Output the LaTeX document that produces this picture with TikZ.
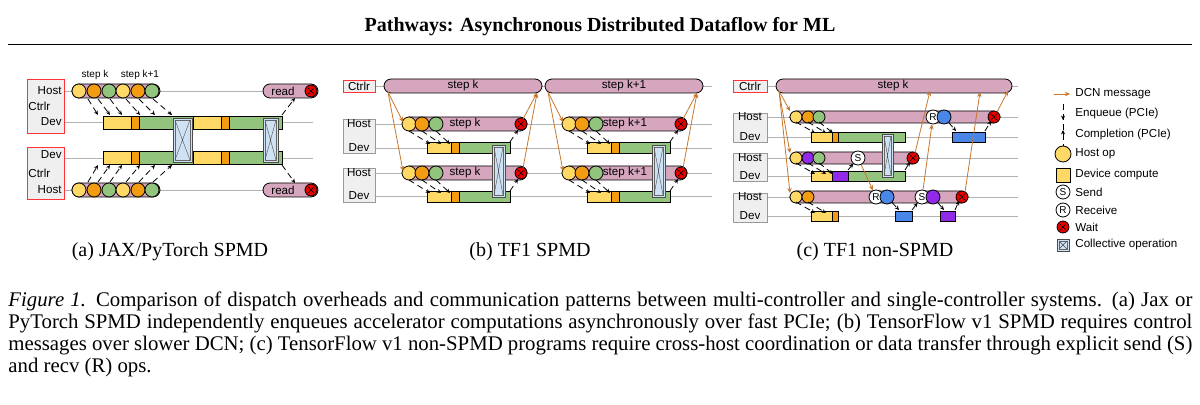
\documentclass[tikz,border=0pt]{standalone}
\usepackage{fontspec}
\setmainfont{Liberation Serif}
\setsansfont{Liberation Sans}
\usepackage{tikz}
\usetikzlibrary{arrows.meta}

\definecolor{hostc}{HTML}{FFD966}
\definecolor{orgc}{HTML}{F39C12}
\definecolor{grnc}{HTML}{93C47D}
\definecolor{pinkc}{HTML}{D5A6BD}
\definecolor{bluec}{HTML}{4A86E8}
\definecolor{purc}{HTML}{9229E8}
\definecolor{collc}{HTML}{CFE2F3}
\definecolor{boxc}{HTML}{EFEFEF}
\definecolor{dcnc}{HTML}{C8762A}

\tikzset{
  hop/.style = {circle, draw, thin, minimum size=7pt, inner sep=0pt},
  sr/.style = {hop, fill=white, font=\sffamily\fontsize{5}{5}\selectfont},
  pill/.style = {draw, thin, fill=pinkc, rounded corners=3.5pt},
  dev/.style = {draw, thin},
  tl/.style = {draw=black!30, thin},
  lbl/.style = {font=\sffamily\fontsize{5.8}{6}\selectfont, inner sep=0pt},
  ctl/.style = {draw=red!80, fill=boxc, thin},
  hbox/.style = {draw=black!40, fill=boxc, thin},
  enq/.style = {densely dashed, thin, -{Stealth[length=2.2pt,width=2pt]}},
  dcn/.style = {dcnc, thin, -{Stealth[length=2.5pt,width=2.2pt]}}
}

% collective op box
\newcommand\collop[4]{%
  \draw[fill=collc, draw=black!70, thin] (#1,#2) rectangle (#3,#4);
  \draw[black!60, very thin] (#1+2,#2+2) rectangle (#3-2,#4-2);
  \draw[black!70, very thin] (#1+2,#2+2) -- (#3-2,#4-2) (#3-2,#2+2) -- (#1+2,#4-2);}
% wait symbol
\newcommand\waitat[2]{%
  \node[hop, fill=red!90!black, minimum size=6pt] at (#1,#2) {};
  \draw[very thin] (#1-3,#2-3) -- (#1+3,#2+3) (#1-3,#2+3) -- (#1+3,#2-3);}

\begin{document}
\begin{tikzpicture}[x=0.5pt, y=-0.5pt]
\useasboundingbox (0,0) rectangle (1200,405);

% title
\node[font=\bfseries\fontsize{10}{12}\selectfont] (title) at (600,27) {Pathways: Asynchronous Distributed Dataflow for ML};
\draw[thin] (8,44) -- (1192,44);

% ===== (a) JAX/PyTorch SPMD =====
\foreach \y in {91,122,158,190} \draw[tl] (64,\y) -- (313,\y);
\draw[ctl] (27,79) rectangle (64,133);
\draw[ctl] (27,147) rectangle (64,199);
\node[lbl, anchor=east] at (62,91) {Host};
\node[lbl, anchor=west] at (28,106) {Ctrlr};
\node[lbl, anchor=east] at (62,122) {Dev};
\node[lbl, anchor=east] at (62,155) {Dev};
\node[lbl, anchor=west] at (28,173) {Ctrlr};
\node[lbl, anchor=east] at (62,190) {Host};
\node[lbl, font=\sffamily\fontsize{5}{5}\selectfont] at (95,75) {step k};
\node[lbl, font=\sffamily\fontsize{5}{5}\selectfont] at (140,75) {step k+1};
\foreach \y in {91,190} {
  \draw[pill] (72,\y-7) rectangle (160,\y+7);
  \foreach \x/\c in {79/hostc,94/orgc,109/grnc,123/hostc,138/orgc,152/grnc}
    \node[hop, fill=\c] at (\x,\y) {};
  \draw[pill] (263,\y-7) rectangle (318,\y+7);
  \node[lbl] at (283,\y) {read};
  \waitat{311}{\y}
}
\foreach \y in {116,151} {
  \draw[dev, fill=hostc] (103,\y) rectangle (131,\y+13);
  \draw[dev, fill=orgc] (131,\y) rectangle (139,\y+13);
  \draw[dev, fill=grnc] (139,\y) rectangle (193,\y+13);
  \draw[dev, fill=hostc] (193,\y) rectangle (221,\y+13);
  \draw[dev, fill=orgc] (221,\y) rectangle (229,\y+13);
  \draw[dev, fill=grnc] (229,\y) rectangle (282,\y+13);
}
\collop{173}{118}{192}{162}
\collop{263}{118}{278}{162}
\foreach \x/\e in {88/98,98/110,110/122,126/140,139/155,153/172} {
  \draw[enq] (\x,99) -- (\e,115);
  \draw[enq] (\x,182) -- (\e,165);
}
\draw[enq] (282,115) -- (295,98);
\draw[enq] (282,165) -- (295,183);
\node[font=\fontsize{10}{12}\selectfont] (capa) at (170,252) {(a) JAX/PyTorch SPMD};

% ===== (b) TF1 SPMD =====
\foreach \y in {86,124,148,173,196} \draw[tl] (375,\y) -- (712,\y);
\draw[ctl] (343,80) rectangle (375,92);
\node[lbl] at (359,86) {Ctrlr};
\draw[hbox] (343,119) rectangle (375,153);
\draw[hbox] (343,168) rectangle (375,202);
\foreach \y/\t in {124/Host,148/Dev,173/Host,196/Dev} \node[lbl] at (359,\y) {\t};
\draw[pill] (384,79) rectangle (542,93);
\node[lbl] at (463,86) {step k};
\draw[pill] (545,79) rectangle (703,93);
\node[lbl] at (624,86) {step k+1};
\foreach \o/\s in {0/step k,160/step k+1} {
  \foreach \y in {124,173} {
    \draw[pill] (403+\o,\y-7) rectangle (527+\o,\y+7);
    \foreach \x/\c in {409/hostc,422/orgc,436/grnc}
      \node[hop, fill=\c] at (\x+\o,\y) {};
    \node[lbl] at (465+\o,\y) {\s};
    \waitat{521+\o}{\y}
    \draw[dev, fill=hostc] (427+\o,\y+18) rectangle (451+\o,\y+29);
    \draw[dev, fill=orgc] (451+\o,\y+18) rectangle (459+\o,\y+29);
    \draw[dev, fill=grnc] (459+\o,\y+18) rectangle (510+\o,\y+29);
    \foreach \x/\e in {409/430,422/441,436/450}
      \draw[enq] (\x+\o,\y+7) -- (\e+\o,\y+20);
    \draw[enq] (510+\o,\y+18) -- (518+\o,\y+6);
    \draw[dcn] (388+\o,92) -- (403+\o,\y-2);
    \draw[dcn] (523+\o,\y-5) -- (537+\o,93);
  }
  \collop{492+\o}{145}{505+\o}{197}
}
\node[font=\fontsize{10}{12}\selectfont] (capb) at (530,252) {(b) TF1 SPMD};

% ===== (c) TF1 non-SPMD =====
\foreach \y in {86,117,137,158,176,197,216} \draw[tl] (767,\y) -- (1018,\y);
\draw[ctl] (733,80) rectangle (767,92);
\node[lbl] at (750,86) {Ctrlr};
\foreach \a/\b in {113/142,153/181,193/222} \draw[hbox] (733,\a) rectangle (767,\b);
\foreach \y/\t in {117/Host,137/Dev,158/Host,176/Dev,197/Host,216/Dev} \node[lbl] at (750,\y) {\t};
\draw[pill] (776,79) rectangle (1012,93);
\node[lbl] at (893,86) {step k};
% host rows
\draw[pill] (790,111) rectangle (1000,123);
\draw[pill] (790,152) rectangle (919,164);
\draw[pill] (790,191) rectangle (968,203);
\foreach \x/\c in {796/hostc,808/orgc,819/grnc} \node[hop, fill=\c, minimum size=6pt] at (\x,117) {};
\foreach \x/\c in {796/hostc,808/purc,819/grnc} \node[hop, fill=\c, minimum size=6pt] at (\x,158) {};
\foreach \x/\c in {796/hostc,808/orgc} \node[hop, fill=\c, minimum size=6pt] at (\x,197) {};
\node[sr] (r1) at (933,117) {R};
\node[hop, fill=bluec] (b1) at (944,117) {};
\node[sr] (s2) at (858,158) {S};
\node[sr] (r3) at (876,197) {R};
\node[hop, fill=bluec] (b3) at (887,197) {};
\node[sr] (s3) at (922,197) {S};
\node[hop, fill=purc] (p3) at (933,197) {};
\waitat{994}{117}
\waitat{913}{158}
\waitat{962}{197}
% device rows
\draw[dev, fill=hostc] (811,132) rectangle (832,142);
\draw[dev, fill=orgc] (832,132) rectangle (838,142);
\draw[dev, fill=grnc] (838,132) rectangle (905,142);
\draw[dev, fill=bluec] (952,132) rectangle (985,142);
\draw[dev, fill=hostc] (811,171) rectangle (832,181);
\draw[dev, fill=purc] (832,171) rectangle (848,181);
\draw[dev, fill=grnc] (848,171) rectangle (905,181);
\draw[dev, fill=hostc] (811,211) rectangle (832,221);
\draw[dev, fill=orgc] (832,211) rectangle (838,221);
\draw[dev, fill=bluec] (895,211) rectangle (912,221);
\draw[dev, fill=purc] (940,211) rectangle (955,221);
\collop{882}{134}{893}{177}
% PCIe
\foreach \y in {117,158} \foreach \x/\e in {796/815,808/826,819/833} \draw[enq] (\x,\y+5) -- (\e,\y+16);
\foreach \x/\e in {796/815,808/826} \draw[enq] (\x,202) -- (\e,213);
\draw[enq] (b1) -- (956,131);
\draw[enq] (985,131) -- (991,121);
\draw[enq] (848,170) -- (s2);
\draw[enq] (905,170) -- (910,162);
\draw[enq] (b3) -- (899,210);
\draw[enq] (912,210) -- (s3);
\draw[enq] (p3) -- (944,210);
\draw[enq] (955,210) -- (959,201);
% DCN
\foreach \y in {111,153,193} \draw[dcn] (779,91) -- (790,\y);
\draw[dcn] (s2) -- (r3);
\draw[dcn] (s3) -- (r1);
\draw[dcn] (915,153) -- (930,91);
\draw[dcn] (965,192) -- (980,92);
\draw[dcn] (997,112) -- (1008,91);
\node[font=\fontsize{10}{12}\selectfont] (capc) at (875,252) {(c) TF1 non-SPMD};

% ===== legend =====
\draw[dcn] (1054,94) -- (1070,94);
\draw[densely dashed, thin] (1063,104) -- (1063,148);
\draw[-{Stealth[length=2.2pt,width=2pt]}, thin] (1063,114) -- (1063,120);
\draw[-{Stealth[length=2.2pt,width=2pt]}, thin] (1063,136) -- (1063,130);
\node[hop, fill=hostc, minimum size=8pt] at (1063,154) {};
\draw[dev, fill=hostc] (1056,168) rectangle (1070,182);
\node[sr] at (1063,192) {S};
\node[sr] at (1063,210) {R};
\waitat{1063}{227}
\collop{1057}{239}{1069}{251}
\foreach \y/\t in {94/DCN message,114/Enqueue (PCIe),135/Completion (PCIe),154/Host op,175/Device compute,192/Send,210/Receive,227/Wait,245/Collective operation}
  \node[lbl, anchor=west] at (1075,\y) {\t};

% caption
\node[anchor=north west, text width=592pt, align=justify, inner sep=0pt,
      font=\fontsize{10.4}{11}\selectfont] (caption) at (8,291)
  {\textit{Figure 1.} Comparison of dispatch overheads and communication patterns between multi-controller and single-controller systems. (a) Jax or PyTorch SPMD independently enqueues accelerator computations asynchronously over fast PCIe; (b) TensorFlow v1 SPMD requires control messages over slower DCN; (c) TensorFlow v1 non-SPMD programs require cross-host coordination or data transfer through explicit send (S) and recv (R) ops.};
\end{tikzpicture}
\end{document}
